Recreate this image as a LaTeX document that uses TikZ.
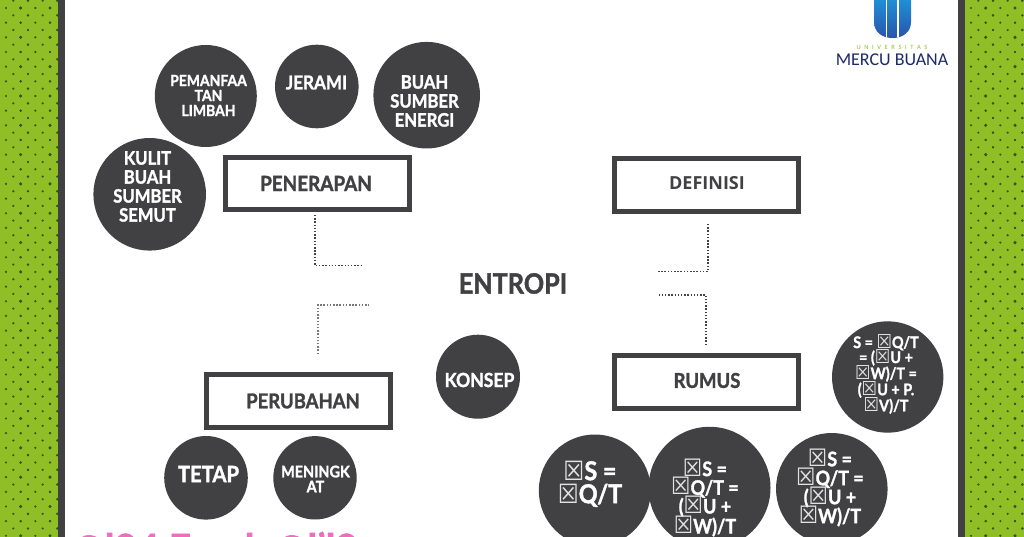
\documentclass[tikz,border=0pt]{standalone}
\usepackage{fontspec}
\usepackage{graphicx}
\setmainfont{Lato}[BoldFeatures={FakeBold=1.5,FakeStretch=0.9}]
\newfontfamily\lblfont{Open Sans}
\newfontfamily\symfont{DejaVu Sans}
\newfontfamily\logofont{Carlito}
\newcommand{\tofu}{\smash{{\symfont\mdseries\color{white!85!ink}\scalebox{1.08}[1.2]{☒}}}}
\newcommand{\tofub}{\smash{{\symfont\mdseries\color{white!85!ink}\scalebox{0.9}[1.02]{☒}}}}
\definecolor{ink}{HTML}{414042}
\definecolor{leaf}{HTML}{8FBE27}
\definecolor{spot}{HTML}{2C5A12}
\definecolor{pinky}{HTML}{F06CC0}
\definecolor{navy}{HTML}{1B2A6B}
\definecolor{shieldtop}{HTML}{1E92D8}
\definecolor{shieldbot}{HTML}{2A50A8}
\tikzset{
  bubble/.style={circle,fill=ink,draw=none,inner sep=0pt},
  bubbletext/.style={text=white,font=\bfseries,align=center,inner sep=0pt},
  labelbox/.style={draw=ink,line width=5pt,fill=white,inner sep=0pt},
  boxtext/.style={text=ink,font=\bfseries,inner sep=0pt},
  dotline/.style={ink,line width=1.5pt,dash pattern=on 1.5pt off 1.7pt},
}
\begin{document}
\begin{tikzpicture}[x=1pt,y=-1pt]
\useasboundingbox (0,0) rectangle (1024,537);
\clip (0,0) rectangle (1024,537);
\fill[white] (0,0) rectangle (1024,537);
% side bands
\fill[leaf] (0,0) rectangle (58,537);
\fill[leaf] (965,0) rectangle (1024,537);
\begin{scope}
\clip (0,0) rectangle (58,537) (965,0) rectangle (1024,537);
\foreach \r in {0,...,73}{
  \pgfmathsetmacro{\yy}{0.7+7.33*\r}
  \pgfmathsetmacro{\off}{mod(\r,2)==1?0:7.33}
  \pgfmathsetmacro{\big}{mod(\r,4)==1?1.7:1.2}
  \foreach \c in {0,...,3}{
    \fill[spot] ({6+\off+14.67*\c},\yy) circle (1.2);
    \fill[spot] ({971+\off+14.67*\c},\yy) circle (1.2);
  }
  \fill[spot] ({20.67+\off},\yy) circle (\big);
  \fill[spot] ({50+\off},\yy) circle (\big);
  \fill[spot] ({985.67+\off},\yy) circle (\big);
  \fill[spot] ({1015+\off},\yy) circle (\big);
}
\end{scope}
\fill[ink] (58,0) rectangle (65,537);
\fill[ink] (958,0) rectangle (965,537);
% logo
\begin{scope}
\clip (874,-2) -- (874,22) .. controls (874,32) and (882,38) .. (892.5,38) .. controls (903,38) and (911,32) .. (911,22) -- (911,-2) -- cycle;
\shade[top color=shieldtop,bottom color=shieldbot] (870,-2) rectangle (915,40);
\fill[white] (885.5,-2) rectangle (887,38);
\fill[white] (897,-2) rectangle (898.5,38);
\end{scope}
\node[inner sep=0pt,text=leaf,font=\logofont\fontsize{6.5}{7}\selectfont] (univ) at (892,47) {U\hspace{3.6pt}N\hspace{3.6pt}I\hspace{3.6pt}V\hspace{3.6pt}E\hspace{3.6pt}R\hspace{3.6pt}S\hspace{3.6pt}I\hspace{3.6pt}T\hspace{3.6pt}A\hspace{3.6pt}S};
\node[inner sep=0pt,text=navy,font=\logofont\fontsize{18}{18}\selectfont] (mercu) at (892,59.5) {MERCU BUANA};
% connectors
\coordinate (p1) at (315,215);\coordinate (p2) at (315,265.5);\coordinate (p3) at (363,265.5);
\coordinate (d1) at (708,224);\coordinate (d2) at (708,271.5);\coordinate (d3) at (658,271.5);
\coordinate (u1) at (318,354);\coordinate (u2) at (318,305);\coordinate (u3) at (369,305);
\coordinate (r1) at (706,345);\coordinate (r2) at (706,295);\coordinate (r3) at (658,295);
\draw[dotline] (p1)--(p2)--(p3);
\draw[dotline] (d1)--(d2)--(d3);
\draw[dotline,opacity=.7] (u1)--(u2)--(u3);
\draw[dotline] (r1)--(r2)--(r3);
% boxes
\node[labelbox,minimum width=184pt,minimum height=52pt] (bpen) at (317.5,183.5) {};
\node[labelbox,minimum width=184pt,minimum height=53pt] (bdef) at (706.5,185) {};
\node[labelbox,minimum width=184pt,minimum height=53pt] (brum) at (706.5,382) {};
\node[labelbox,minimum width=184pt,minimum height=53pt] (bper) at (298.5,401) {};
\node[boxtext,font=\bfseries\fontsize{21}{20}\selectfont] (tpen) at (316,183.5) {PENERAPAN};
\node[boxtext,font=\lblfont\bfseries\fontsize{18}{18}\selectfont] (tdef) at (707,183) {DEFINISI};
\node[boxtext,font=\bfseries\fontsize{20.5}{20}\selectfont] (trum) at (707,380.5) {RUMUS};
\node[boxtext,font=\bfseries\fontsize{20.5}{20}\selectfont] (tper) at (303,401) {PERUBAHAN};
\node[boxtext,font=\bfseries\fontsize{28}{28}\selectfont] (entropi) at (513,283.5) {ENTROPI};
% bubbles
\node[bubble,minimum size=102pt] (c1) at (205.8,96) {};
\node[bubble,minimum size=83.6pt] (c2) at (316.8,86.5) {};
\node[bubble,minimum size=106.6pt] (c3) at (426.7,95.2) {};
\node[bubble,minimum size=112.6pt] (c4) at (149.7,194.3) {};
\node[bubble,minimum size=83.6pt] (c5) at (206,477.8) {};
\node[bubble,minimum size=83.4pt] (c6) at (315,477.8) {};
\node[bubble,minimum size=84pt] (c7) at (478,376.7) {};
\node[bubble,minimum size=111.4pt] (c8) at (887.7,377) {};
\node[bubble,minimum size=112pt] (c9) at (594.8,490.5) {};
\node[bubble,minimum size=122pt] (c10) at (709.5,487.8) {};
\node[bubble,minimum size=111.6pt] (c11) at (831.8,488.8) {};
\node[bubbletext,font=\bfseries\fontsize{15.5}{15}\selectfont] (t1) at (208.5,95.5) {PEMANFAA\\TAN\\LIMBAH};
\node[bubbletext,font=\bfseries\fontsize{19}{19}\selectfont] (t2) at (316.5,82.5) {JERAMI};
\node[bubbletext,font=\bfseries\fontsize{18.5}{19}\selectfont] (t3) at (424.5,101) {BUAH\\SUMBER\\ENERGI};
\node[bubbletext,font=\bfseries\fontsize{18.5}{19}\selectfont] (t4) at (147.5,186.5) {KULIT\\BUAH\\SUMBER\\SEMUT};
\node[bubbletext,font=\bfseries\fontsize{22.5}{22}\selectfont] (t5) at (208.5,474) {TETAP};
\node[bubbletext,font=\bfseries\fontsize{16}{15}\selectfont] (t6) at (315.5,479) {MENINGK\\AT};
\node[bubbletext,font=\bfseries\fontsize{19.5}{19}\selectfont] (t7) at (479.5,380) {KONSEP};
\node[bubbletext,font=\bfseries\fontsize{16}{15}\selectfont] (t8) at (886,375) {S = \tofu Q/T\\= (\tofu U +\\\tofu W)/T =\\(\tofu U + P.\\\tofu V)/T};
\node[bubbletext,font=\bfseries\fontsize{26}{23}\selectfont] (t9) at (590,484) {\tofub S =\\\tofub Q/T};
\node[bubbletext,font=\bfseries\fontsize{20}{18.7}\selectfont] (t10) at (705,499) {\tofu S =\\\tofu Q/T =\\(\tofu U +\\\tofu W)/T};
\node[bubbletext,font=\bfseries\fontsize{20}{19}\selectfont] (t11) at (830,489) {\tofu S =\\\tofu Q/T =\\(\tofu U +\\\tofu W)/T};
% pink footer
\node[anchor=base west,inner sep=0pt,text=pinky,font=\bfseries\fontsize{43}{43}\selectfont] (foot) at (72,565) {@l94 Frank @l'l9};
\end{tikzpicture}
\end{document}
